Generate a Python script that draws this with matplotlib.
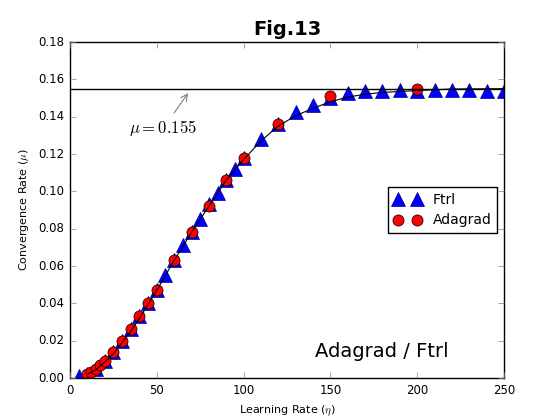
import matplotlib
matplotlib.use("Agg")
import matplotlib.pyplot as plt

plt.style.use('classic')

# Ftrl measurements
ftrl_rate = [5, 10, 15, 20, 25, 30, 35, 40, 45, 50, 55, 60, 65, 70, 75, 80, 85, 90, 95, 100,
             110, 120, 130, 140, 150, 160, 170, 180, 190, 200, 210, 220, 230, 240, 250]
ftrl_conv = [0.001, 0.002, 0.005, 0.009, 0.014, 0.020, 0.026, 0.033, 0.040, 0.047, 0.055, 0.063,
             0.071, 0.078, 0.085, 0.093, 0.099, 0.106, 0.112, 0.118,
             0.128, 0.136, 0.1425, 0.1465, 0.150, 0.1525, 0.1535, 0.154, 0.1545, 0.154, 0.1545,
             0.1545, 0.1545, 0.154, 0.154]

# Adagrad measurements
ada_rate = [10, 12, 15, 17, 20, 25, 30, 35, 40, 45, 50, 60, 70, 80, 90, 100, 120, 150, 200]
ada_conv = [0.002, 0.003, 0.005, 0.007, 0.009, 0.014, 0.020, 0.026, 0.033, 0.040, 0.047, 0.063,
            0.078, 0.092, 0.106, 0.118, 0.136, 0.151, 0.155]

# fitted curve
fit_rate = [10, 15, 20, 25, 30, 35, 40, 50, 60, 70, 80, 90, 100, 110, 120, 130, 140, 150,
            160, 170, 180, 200, 220, 250]
fit_conv = [0.002, 0.0045, 0.0085, 0.013, 0.019, 0.025, 0.032, 0.047, 0.063, 0.078, 0.092,
            0.106, 0.117, 0.127, 0.135, 0.1405, 0.1445, 0.148, 0.1505, 0.152, 0.153, 0.154,
            0.1548, 0.155]

mu = 0.155

fig = plt.figure(figsize=(5.6, 4.2), dpi=100)
ax = fig.add_subplot(111)
fig.subplots_adjust(left=0.125, right=0.9, bottom=0.1, top=0.9)

ax.plot(ftrl_rate, ftrl_conv, '^', color='blue', markeredgecolor='#00008b',
        markersize=10, label='Ftrl')
ax.plot(ada_rate, ada_conv, 'o', color='red', markeredgecolor='black',
        markersize=8, label='Adagrad')
ax.plot(fit_rate, fit_conv, '-', color='black', linewidth=0.8)
ax.axhline(mu, color='black', linewidth=1)

ax.annotate(r'$\mu=0.155$', xy=(69, 0.1538), xytext=(34, 0.131),
            fontsize=12, arrowprops=dict(arrowstyle='->', color='gray', lw=0.8))
ax.text(141, 0.011, 'Adagrad / Ftrl', fontsize=14)

ax.set_xlim(0, 250)
ax.set_ylim(0, 0.18)
ax.set_title('Fig.13', fontsize=14, fontweight='bold')
ax.set_xlabel(r'Learning Rate ($\eta$)', fontsize=8)
ax.set_ylabel(r'Convergence Rate ($\mu$)', fontsize=8)
ax.tick_params(labelsize=8.5, color='gray')

ax.legend(loc='center right', numpoints=2, fontsize=10)

fig.savefig('out.png', dpi=100)
